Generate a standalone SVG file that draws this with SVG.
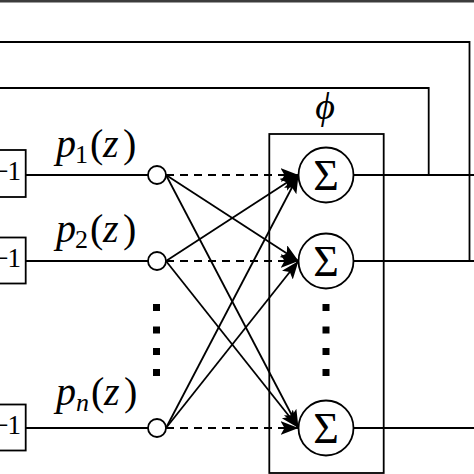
<svg xmlns="http://www.w3.org/2000/svg" width="474" height="474" viewBox="0 0 474 474">
<defs>
<marker id="ah" markerUnits="userSpaceOnUse" markerWidth="20" markerHeight="16" refX="18" refY="7" orient="auto">
<path d="M0,0 L18,7 L0,14 L4,7 z" fill="#000"/>
</marker>
<style>
.ln{fill:none;stroke:#000;stroke-width:1.8}
.dash{fill:none;stroke:#000;stroke-width:1.8;stroke-dasharray:8 6}
.arr{fill:none;stroke:#000;stroke-width:1.8;marker-end:url(#ah)}
.nd{fill:#fff;stroke:#000;stroke-width:1.8}
.tx{font-family:"Liberation Serif","DejaVu Serif",serif;font-style:italic;fill:#000}
.up{font-family:"Liberation Serif","DejaVu Serif",serif;font-style:normal;fill:#000}
.dot{fill:#000}
</style>
</defs>
<rect x="0" y="0" width="474" height="474" fill="#fff"/>
<rect x="0" y="0" width="474" height="2.5" fill="#3c3c3c"/>

<g id="connectors">
<path class="ln" d="M0,42 H469.5 V261"/>
<path class="ln" d="M0,88 H428.7 V175"/>
<path class="ln" d="M25.7,175 H148"/>
<path class="ln" d="M25.7,261 H148"/>
<path class="ln" d="M25.7,428 H148"/>
<path class="dash" d="M166,175 H286"/>
<path class="dash" d="M166,261 H286"/>
<path class="dash" d="M166,428 H286"/>
<path class="arr" d="M166,175 L298.5,261"/>
<path class="arr" d="M166,175 L298.5,428"/>
<path class="arr" d="M166,261 L298.5,175"/>
<path class="arr" d="M166,261 L298.5,428"/>
<path class="arr" d="M166,428 L298.5,175"/>
<path class="arr" d="M166,428 L298.5,261"/>
<path class="arr" d="M280,175 H298.5"/>
<path class="arr" d="M280,261 H298.5"/>
<path class="arr" d="M280,428 H298.5"/>
<path class="ln" d="M353.5,175 H474"/>
<path class="ln" d="M353.5,261 H474"/>
<path class="ln" d="M353.5,428 H474"/>
</g>

<g id="phi">
<rect class="ln" x="269.3" y="134" width="114.4" height="339"/>
<text class="tx" x="325" y="119" font-size="38" text-anchor="middle">ϕ</text>
</g>

<g id="delay1"><rect class="ln" x="-20" y="150" width="45.7" height="47"/><text class="up" x="20" y="180" font-size="27" text-anchor="end" letter-spacing="-1">−1</text></g>
<g id="delay2"><rect class="ln" x="-20" y="237.5" width="45.7" height="46"/><text class="up" x="20" y="267" font-size="27" text-anchor="end" letter-spacing="-1">−1</text></g>
<g id="delay3"><rect class="ln" x="-20" y="404.5" width="45.7" height="46"/><text class="up" x="20" y="434" font-size="27" text-anchor="end" letter-spacing="-1">−1</text></g>

<g id="label1"><text class="tx" y="157" font-size="40"><tspan x="56">p</tspan><tspan class="up" x="75" dy="6" font-size="26">1</tspan><tspan class="up" x="90" dy="-6">(</tspan><tspan x="103">z</tspan><tspan class="up" x="123">)</tspan></text></g>
<g id="label2"><text class="tx" y="242" font-size="40"><tspan x="56">p</tspan><tspan class="up" x="75" dy="6" font-size="26">2</tspan><tspan class="up" x="90" dy="-6">(</tspan><tspan x="103">z</tspan><tspan class="up" x="123">)</tspan></text></g>
<g id="labeln"><text class="tx" y="405" font-size="40"><tspan x="56">p</tspan><tspan x="76" dy="6" font-size="26">n</tspan><tspan class="up" x="91" dy="-6">(</tspan><tspan x="104">z</tspan><tspan class="up" x="124">)</tspan></text></g>

<g id="in1"><circle class="nd" cx="157" cy="175" r="9"/></g>
<g id="in2"><circle class="nd" cx="157" cy="261" r="9"/></g>
<g id="inn"><circle class="nd" cx="157" cy="428" r="9"/></g>

<g id="sum1"><circle class="nd" cx="326" cy="175" r="27.5"/><text class="up" x="326" y="190" font-size="44" text-anchor="middle">Σ</text></g>
<g id="sum2"><circle class="nd" cx="326" cy="261" r="27.5"/><text class="up" x="326" y="276" font-size="44" text-anchor="middle">Σ</text></g>
<g id="sumn"><circle class="nd" cx="326" cy="428" r="27.5"/><text class="up" x="326" y="443" font-size="44" text-anchor="middle">Σ</text></g>

<g id="dots-left">
<rect class="dot" x="153" y="304" width="7" height="7"/>
<rect class="dot" x="153" y="326.5" width="7" height="7"/>
<rect class="dot" x="153" y="348" width="7" height="7"/>
<rect class="dot" x="153" y="369" width="7" height="7"/>
</g>
<g id="dots-right">
<rect class="dot" x="322.5" y="304" width="7" height="7"/>
<rect class="dot" x="322.5" y="326.5" width="7" height="7"/>
<rect class="dot" x="322.5" y="348" width="7" height="7"/>
<rect class="dot" x="322.5" y="369" width="7" height="7"/>
</g>
</svg>
